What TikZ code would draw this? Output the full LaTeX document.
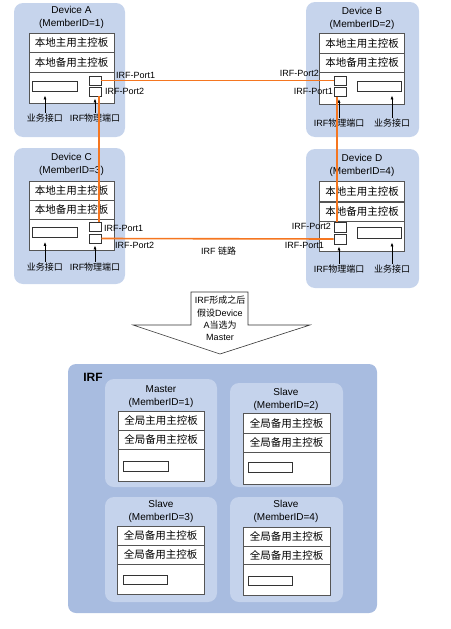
\documentclass[tikz,border=0pt]{standalone}
\usepackage{fontspec}
\setmainfont{Liberation Sans}
\newfontfamily\cjk{Noto Sans CJK SC}
\usepackage{tikz}
\usetikzlibrary{arrows.meta}
\usepackage{xcolor}
\definecolor{devicecolor}{RGB}{198, 212, 236}
\definecolor{irfcolor}{RGB}{168, 188, 224}
\definecolor{cellcolor}{RGB}{197, 211, 236}
\definecolor{linkcolor}{RGB}{245, 118, 32}
\definecolor{boardline}{RGB}{85, 85, 85}

\begin{document}
\begin{tikzpicture}[
    x=1pt, y=-1pt,
    devicebox/.style={rectangle, fill=devicecolor, rounded corners=9pt, minimum width=111pt, minimum height=134pt, inner sep=0pt},
    cellbox/.style={rectangle, fill=cellcolor, rounded corners=9pt, inner sep=0pt},
    titlenode/.style={align=center, font=\fontsize{10}{13}\selectfont, inner sep=0pt},
    boardbox/.style={rectangle, draw=boardline, line width=1pt, fill=white, minimum width=85pt, inner sep=0pt},
    rowbox/.style={rectangle, draw=boardline, line width=1pt, minimum width=85pt, minimum height=19.5pt, inner sep=0pt, font=\fontsize{10.5}{12}\cjk},
    svcport/.style={rectangle, draw=black!80, line width=0.8pt, fill=white, minimum width=45pt, minimum height=10pt, inner sep=0pt},
    irfport/.style={rectangle, draw=black!80, line width=0.8pt, fill=white, minimum width=12pt, minimum height=9pt, inner sep=0pt},
    portlabel/.style={font=\fontsize{9}{10}\selectfont, inner sep=1pt},
    pointer/.style={-{Latex[length=4pt,width=3pt]}, line width=0.7pt},
    irflink/.style={draw=linkcolor, line width=1.6pt}
]
    \useasboundingbox (0,0) rectangle (450,629);

    % Device A
    \node[devicebox] (devA) at (69.5,70) {};
    \node[titlenode] (devAtitle) at (71.5,17.5) {Device A\\(MemberID=1)};
    \node[boardbox, minimum height=70pt] (aBoard) at (71.5,68) {};
    \node[rowbox] (aMain) at (71.5,43) {本地主用主控板};
    \node[rowbox] (aBackup) at (71.5,62.5) {本地备用主控板};
    \node[svcport] (aSvc) at (54.5,86) {};
    \node[irfport] (aP1) at (95,80.5) {};
    \node[irfport] (aP2) at (95,91.5) {};
    \node[portlabel, anchor=west] (aP1label) at (115,75) {IRF-Port1};
    \node[portlabel, anchor=west] (aP2label) at (104,91) {IRF-Port2};
    \node[portlabel] (aSvclabel) at (45,118) {\cjk 业务接口};
    \node[portlabel] (aPortlabel) at (95,118) {IRF{\cjk 物理端口}};
    \draw[pointer] (aSvclabel.north) -- ([yshift=-4pt]aSvclabel.north |- aSvc.south);
    \draw[pointer] (aPortlabel.north) -- ([yshift=-2pt]aPortlabel.north |- aP2.south);

    % Device B
    \node[devicebox, minimum width=113pt, minimum height=135pt] (devB) at (362.5,69.5) {};
    \node[titlenode] (devBtitle) at (362,18) {Device B\\(MemberID=2)};
    \node[boardbox, minimum height=71pt] (bBoard) at (362,68.5) {};
    \node[rowbox] (bMain) at (362,43.5) {本地主用主控板};
    \node[rowbox] (bBackup) at (362,63) {本地备用主控板};
    \node[svcport, minimum width=44pt] (bSvc) at (379,86) {};
    \node[irfport] (bP2) at (340,80.5) {};
    \node[irfport] (bP1) at (340,92) {};
    \node[portlabel, anchor=east] (bP2label) at (320,73) {IRF-Port2};
    \node[portlabel, anchor=east] (bP1label) at (334,91) {IRF-Port1};
    \node[portlabel] (bPortlabel) at (339,123) {IRF{\cjk 物理端口}};
    \node[portlabel] (bSvclabel) at (392,123) {\cjk 业务接口};
    \draw[pointer] (bSvclabel.north) -- ([yshift=-4pt]bSvclabel.north |- bSvc.south);
    \draw[pointer] (bPortlabel.north) -- ([yshift=-2pt]bPortlabel.north |- bP1.south);

    % Device C
    \node[devicebox, minimum height=136pt] (devC) at (69.5,216) {};
    \node[titlenode] (devCtitle) at (71.5,164.5) {Device C\\(MemberID=3)};
    \node[boardbox, minimum height=69pt] (cBoard) at (71.5,215.5) {};
    \node[rowbox] (cMain) at (71.5,191) {本地主用主控板};
    \node[rowbox] (cBackup) at (71.5,210) {本地备用主控板};
    \node[svcport] (cSvc) at (54.5,232.5) {};
    \node[irfport] (cP1) at (95,226.5) {};
    \node[irfport] (cP2) at (95,238.5) {};
    \node[portlabel, anchor=west] (cP1label) at (103,228) {IRF-Port1};
    \node[portlabel, anchor=west] (cP2label) at (114,245) {IRF-Port2};
    \node[portlabel] (cSvclabel) at (45,267) {\cjk 业务接口};
    \node[portlabel] (cPortlabel) at (95,267) {IRF{\cjk 物理端口}};
    \draw[pointer] (cSvclabel.north) -- ([yshift=-4pt]cSvclabel.north |- cSvc.south);
    \draw[pointer] (cPortlabel.north) -- ([yshift=-2pt]cPortlabel.north |- cP2.south);

    % Device D
    \node[devicebox, minimum width=113pt, minimum height=139pt] (devD) at (362.5,218.5) {};
    \node[titlenode] (devDtitle) at (362,165) {Device D\\(MemberID=4)};
    \node[boardbox, minimum height=70pt] (dBoard) at (362,216) {};
    \node[rowbox, minimum height=21pt] (dMain) at (362,191.5) {本地主用主控板};
    \node[rowbox] (dBackup) at (362,211.5) {本地备用主控板};
    \node[svcport, minimum width=44pt, minimum height=11pt] (dSvc) at (379,232.5) {};
    \node[irfport, minimum height=10pt] (dP2) at (340,227) {};
    \node[irfport, minimum height=10pt] (dP1) at (340,239) {};
    \node[portlabel, anchor=east] (dP2label) at (332,226) {IRF-Port2};
    \node[portlabel, anchor=east] (dP1label) at (325,245) {IRF-Port1};
    \node[portlabel] (dPortlabel) at (339,269) {IRF{\cjk 物理端口}};
    \node[portlabel] (dSvclabel) at (392,269) {\cjk 业务接口};
    \draw[pointer] (dSvclabel.north) -- ([yshift=-4pt]dSvclabel.north |- dSvc.south);
    \draw[pointer] (dPortlabel.north) -- ([yshift=-2pt]dPortlabel.north |- dP1.south);

    % IRF links
    \draw[irflink] (aP1.east) -- (bP2.west);
    \draw[irflink] ([xshift=4pt]aP2.south) -- ([xshift=4pt]cP1.north);
    \draw[irflink] ([xshift=-3pt]bP1.south) -- ([xshift=-3pt]dP2.north);
    \draw[irflink] (cP2.east) -- (dP1.west);
    \node[portlabel] (linklabel) at (218.5,251) {IRF {\cjk 链路}};

    % Arrow
    \draw[fill=white, draw=black!80, line width=0.6pt] (191,292) -- (248,292) -- (248,325) -- (310,325)
        -- (220,354) -- (133,325) -- (191,325) -- cycle;
    \node[align=center, font=\fontsize{9}{12.3}\selectfont, inner sep=0pt] (shifttext) at (220,318.5)
        {IRF{\cjk 形成之后}\\{\cjk 假设}Device\\A{\cjk 当选为}\\Master};

    % IRF
    \node[rectangle, fill=irfcolor, rounded corners=8pt, minimum width=309pt, minimum height=249pt] (irf) at (222.5,488.5) {};
    \node[font=\fontsize{12}{14}\selectfont\bfseries, inner sep=0pt] (irflabel) at (93,377) {IRF};

    % Master
    \node[cellbox, minimum width=112pt, minimum height=108pt] (master) at (161,433) {};
    \node[titlenode] (mastertitle) at (161,397) {Master\\(MemberID=1)};
    \node[boardbox, minimum width=86pt, minimum height=70pt] (mBoard) at (161,446) {};
    \node[rowbox, minimum width=86pt, minimum height=19pt] (mMain) at (161,420.5) {全局主用主控板};
    \node[rowbox, minimum width=86pt, minimum height=19pt] (mBackup) at (161,439.5) {全局备用主控板};
    \node[svcport] (mSvc) at (145.5,466) {};

    % Slave 2
    \node[cellbox, minimum width=113pt, minimum height=104pt] (slaveB) at (286.5,435) {};
    \node[titlenode] (slaveBtitle) at (286,399.5) {Slave\\(MemberID=2)};
    \node[boardbox, minimum width=87pt, minimum height=71pt] (sbBoard) at (286.5,448.5) {};
    \node[rowbox, minimum width=87pt, minimum height=20pt] (sbMain) at (286.5,423) {全局备用主控板};
    \node[rowbox, minimum width=87pt, minimum height=19pt] (sbBackup) at (286.5,442.5) {全局备用主控板};
    \node[svcport, minimum width=44pt] (sbSvc) at (270,467.5) {};

    % Slave 3
    \node[cellbox, minimum width=112pt, minimum height=105pt] (slaveC) at (161,549.5) {};
    \node[titlenode] (slaveCtitle) at (161,511.5) {Slave\\(MemberID=3)};
    \node[boardbox, minimum width=87pt, minimum height=68pt] (scBoard) at (160.5,560) {};
    \node[rowbox, minimum width=87pt, minimum height=19pt] (scMain) at (160.5,535.5) {全局备用主控板};
    \node[rowbox, minimum width=87pt, minimum height=19pt] (scBackup) at (160.5,554.5) {全局备用主控板};
    \node[svcport, minimum width=44pt, minimum height=9pt] (scSvc) at (145,580) {};

    % Slave 4
    \node[cellbox, minimum width=113pt, minimum height=105pt] (slaveD) at (286.5,549.5) {};
    \node[titlenode] (slaveDtitle) at (286,511.5) {Slave\\(MemberID=4)};
    \node[boardbox, minimum width=87pt, minimum height=68pt] (sdBoard) at (286.5,561) {};
    \node[rowbox, minimum width=87pt, minimum height=19pt] (sdMain) at (286.5,536.5) {全局备用主控板};
    \node[rowbox, minimum width=87pt, minimum height=18pt] (sdBackup) at (286.5,555) {全局备用主控板};
    \node[svcport, minimum width=44pt, minimum height=9pt] (sdSvc) at (270,580.5) {};
\end{tikzpicture}
\end{document}
